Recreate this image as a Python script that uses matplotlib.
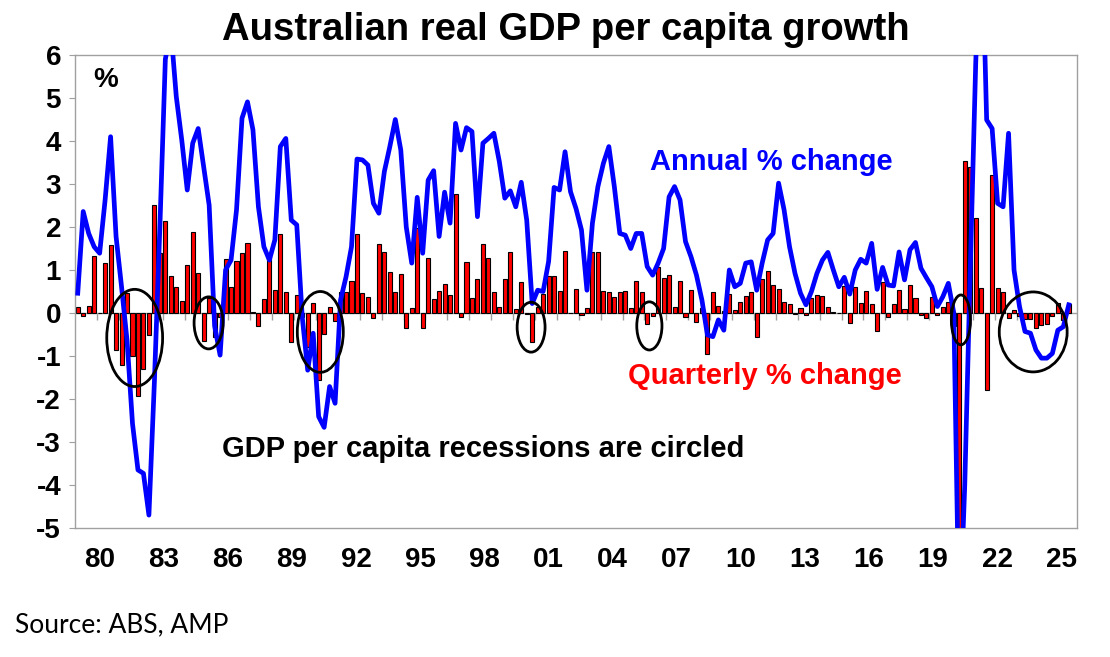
import matplotlib
matplotlib.use("Agg")
import matplotlib.pyplot as plt
from matplotlib.patches import Ellipse

plt.rcParams['axes.unicode_minus'] = False

# quarterly % change in real GDP per capita, Mar-80 .. Jun-25
quarterly = [
    0.15, -0.07, 0.17, 1.33, 0.0, 1.16, 1.58, -0.85, -1.22, 0.47,
    -1.0, -1.93, -1.31, -0.52, 2.5, 1.39, 2.14, 0.86, 0.6, 0.29,
    1.12, 1.88, 0.94, -0.65, 0.36, -0.55, -0.1, 1.25, 0.6, 1.2,
    1.4, 1.62, 0.02, -0.3, 0.32, 1.3, 0.53, 1.83, 0.49, -0.67,
    0.42, -0.1, -0.78, 0.24, -1.56, -0.49, 0.13, -0.18, 0.48, 0.48,
    0.74, 1.84, 0.46, 0.38, -0.11, 1.6, 1.42, 0.96, 0.48, 0.9,
    -0.35, 0.12, 1.97, -0.35, 1.29, 0.32, 0.5, 0.67, 0.43, 2.77,
    -0.1, 1.18, 0.36, 0.78, 1.6, 1.27, 0.48, 0.13, 0.79, 1.42,
    0.09, 0.71, -0.02, -0.67, 0.15, 0.45, 0.87, 0.87, 0.52, 1.44,
    -0.01, 0.55, -0.05, 0.12, 1.41, 1.41, 0.5, 0.48, 0.37, 0.48,
    0.5, 0.12, 0.74, 0.49, -0.26, -0.07, 1.07, 0.82, 0.88, 0.15,
    0.74, -0.1, 0.53, -0.21, 0.12, -0.95, 0.49, 0.16, 0.05, 0.44,
    0.07, 0.25, 0.4, 0.48, -0.56, 0.8, 0.98, 0.66, 0.56, 0.25,
    0.2, -0.03, 0.11, -0.05, 0.36, 0.42, 0.4, 0.15, 0.03, 0.0,
    0.63, -0.24, 0.61, 0.24, 0.52, 0.22, -0.43, 0.73, -0.09, 0.2,
    0.53, 0.09, 0.65, 0.34, -0.05, -0.12, 0.38, -0.05, 0.15, 0.25,
    -0.3, -7.0, 3.54, 3.39, 2.2, 0.57, -1.78, 3.22, 0.57, 0.48,
    -0.12, 0.07, -0.07, -0.15, -0.14, -0.36, -0.29, -0.26, -0.06, 0.24,
    -0.16, 0.2,
]

# annual % change
annual = [
    0.46, 2.36, 1.85, 1.54, 1.39, 2.63, 4.1, 1.78, 0.61, -0.63,
    -2.57, -3.65, -3.73, -4.7, -1.6, 2.0, 5.9, 6.6, 5.03, 4.02,
    2.86, 3.95, 4.29, 3.4, 2.51, -0.3, -0.98, 1.0, 1.23, 2.4,
    4.53, 4.91, 4.26, 2.47, 1.54, 1.23, 1.7, 3.87, 4.06, 2.16,
    2.05, -0.09, -1.33, -0.47, -2.41, -2.66, -1.71, -2.1, 0.3, 0.84,
    1.54, 3.58, 3.56, 3.44, 2.55, 2.32, 3.29, 3.87, 4.5, 3.79,
    2.0, 1.16, 2.69, 1.39, 3.09, 3.31, 1.78, 2.81, 2.09, 4.41,
    3.79, 4.31, 4.22, 2.24, 3.95, 4.06, 4.18, 3.52, 2.67, 2.84,
    2.47, 3.04, 2.16, 0.22, 0.53, 0.5, 1.2, 2.92, 2.86, 3.75,
    2.82, 2.43, 1.93, 0.53, 2.09, 2.94, 3.48, 3.87, 2.94, 1.85,
    1.81, 1.5, 1.85, 1.85, 1.08, 0.88, 1.16, 1.5, 2.7, 2.94,
    2.63, 1.66, 1.31, 0.88, 0.3, -0.51, -0.55, -0.16, -0.4, 1.0,
    0.61, 0.69, 1.16, 1.19, 0.53, 1.16, 1.7, 1.85, 3.02, 2.4,
    1.54, 0.92, 0.46, 0.19, 0.5, 0.92, 1.23, 1.41, 1.0, 0.61,
    0.83, 0.44, 1.0, 1.25, 1.16, 1.62, 0.55, 1.06, 0.65, 0.63,
    1.42, 0.77, 1.47, 1.64, 1.04, 0.82, 0.61, 0.15, 0.38, 0.69,
    0.0, -7.5, -4.0, 1.0, 5.8, 9.4, 4.49, 4.29, 2.55, 2.47,
    4.18, 1.0, 0.15, -0.43, -0.47, -0.86, -1.05, -1.05, -0.94, -0.4,
    -0.32, 0.19,
]

year_labels = ['80', '83', '86', '89', '92', '95', '98', '01',
               '04', '07', '10', '13', '16', '19', '22', '25']

# recession circles: (centre quarter, centre value, width in quarters, height)
circles = [
    (10.4, -0.58, 10.2, 2.26),
    (23.9, -0.23, 5.3, 1.21),
    (44.3, -0.44, 8.4, 1.88),
    (82.8, -0.33, 5.1, 1.16),
    (104.4, -0.30, 4.6, 1.12),
    (161.3, -0.16, 3.5, 1.16),
    (174.5, -0.44, 12.4, 1.86),
]

W, H = 1110, 657
fig = plt.figure(figsize=(W / 100, H / 100), dpi=100)
ax = fig.add_axes([75 / W, 1 - 528 / H, 1002 / W, 473 / H])

font = 'Liberation Sans'
grey = '#A0A0A0'
n = len(quarterly)
x = list(range(n))

ax.bar(x, quarterly, width=0.74, color='#FF0000', edgecolor='black',
       linewidth=0.8, zorder=2)
ax.axhline(0, color=grey, linewidth=1, zorder=1)
ax.plot(x, annual, color='#0000FF', linewidth=3.4, zorder=3)

# small tick marks on the zero line, one per year
ax.vlines([k + 3.5 for k in range(0, n, 4)], -0.16, 0, color=grey,
          linewidth=1, zorder=1)

for cx, cy, w, h in circles:
    ax.add_patch(Ellipse((cx, cy), w, h, fill=False, edgecolor='black',
                         linewidth=2, zorder=4))

ax.set_xlim(-0.5, n + 0.5)
ax.set_ylim(-5, 6)
ax.set_yticks(range(-5, 7))
# year labels sit evenly from the first bars to the last ones
first_lab, last_lab = 4.0, 179.6
step = (last_lab - first_lab) / (len(year_labels) - 1)
ax.set_xticks([first_lab + k * step for k in range(len(year_labels))])
ax.set_xticklabels(year_labels)
ax.tick_params(axis='x', length=0, pad=14)
ax.tick_params(axis='y', length=4, color=grey, pad=6)
for lab in ax.get_xticklabels() + ax.get_yticklabels():
    lab.set_fontfamily(font)
    lab.set_fontweight('bold')
    lab.set_fontsize(20)
for s in ax.spines.values():
    s.set_color(grey)
    s.set_linewidth(1)

fig.text(565.5 / W, 1 - 30 / H, 'Australian real GDP per capita growth',
         ha='center', va='center', fontsize=27.5, fontweight='bold',
         family=font)
fig.text(93 / W, 1 - 80 / H, '%', ha='left', va='center', fontsize=20,
         fontweight='bold', family=font)
fig.text(650 / W, 1 - 162 / H, 'Annual % change', ha='left', va='center',
         fontsize=21, fontweight='bold', color='#0000FF', family=font)
fig.text(628 / W, 1 - 376 / H, 'Quarterly % change', ha='left',
         va='center', fontsize=21, fontweight='bold', color='#FF0000',
         family=font)
fig.text(222 / W, 1 - 449 / H, 'GDP per capita recessions are circled',
         ha='left', va='center', fontsize=21, fontweight='bold',
         family=font)
fig.text(15 / W, 1 - 625 / H, 'Source: ABS, AMP', ha='left', va='center',
         fontsize=19, family='Lato')

fig.savefig('out.png', dpi=100)
